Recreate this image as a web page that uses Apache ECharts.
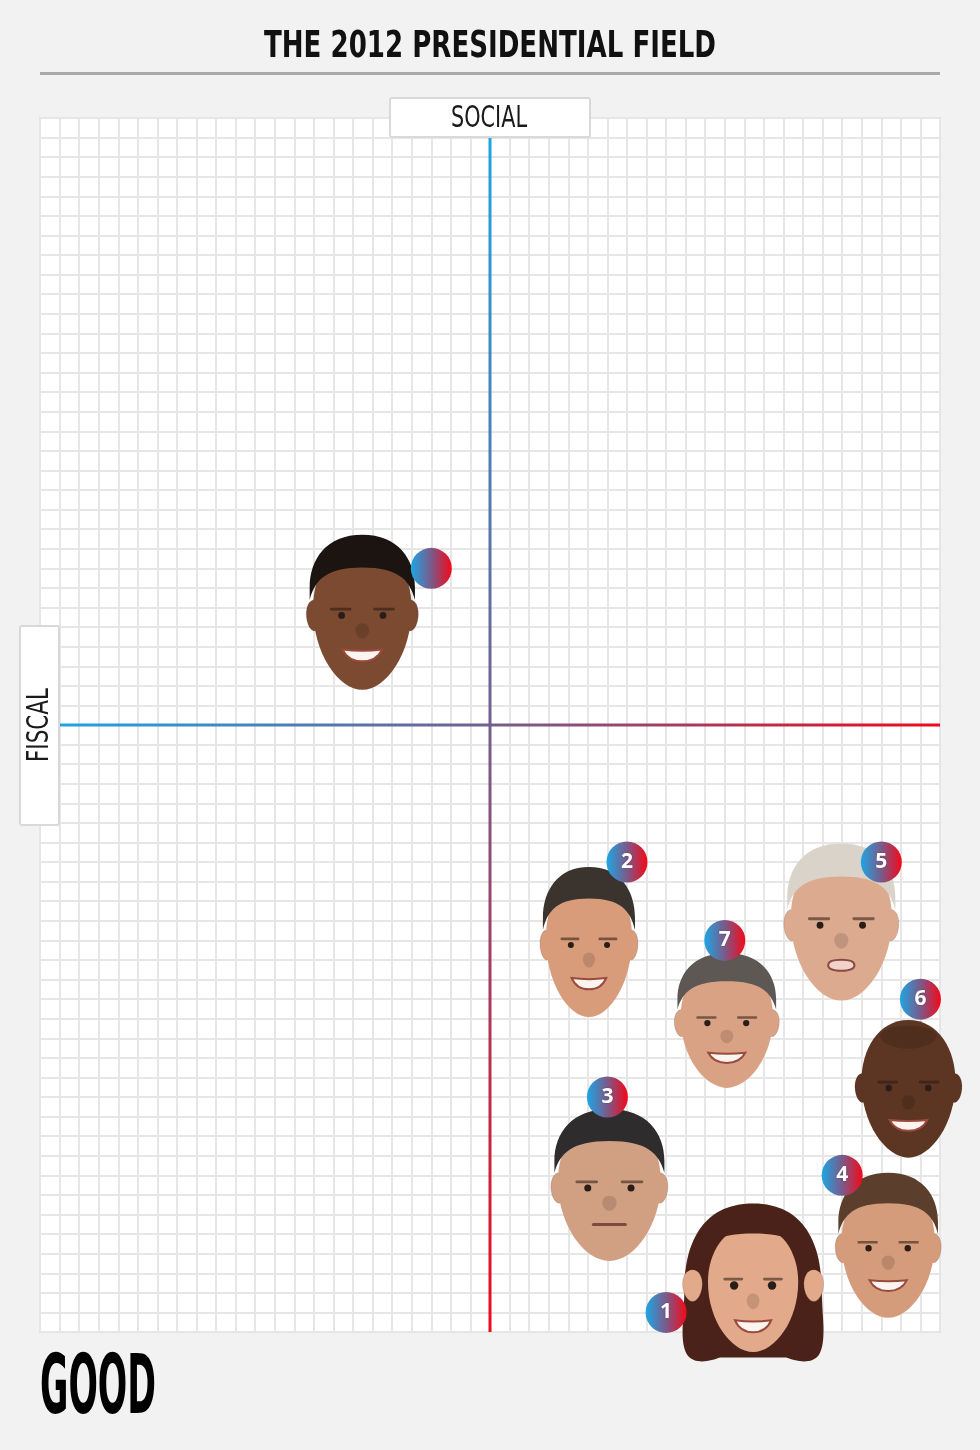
<!DOCTYPE html>
<html>
<head>
<meta charset="utf-8">
<script src="https://cdn.jsdelivr.net/npm/echarts@6/dist/echarts.min.js"></script>
<style>
html,body{margin:0;padding:0;background:#f2f2f2;}
#chart{width:980px;height:1450px;}
</style>
</head>
<body>
<div id="chart"></div>
<script>
// ---- data ----
const candidates = ['Michele Bachmann','Jon Huntsman','Mitt Romney','Rick Perry','Ron Paul','Herman Cain','Tim Pawlenty','Barack Obama'];
const badgeLabels = ['1','2','3','4','5','6','7',''];
const fiscalValues = [9, 7, 6, 18, 20, 22, 12, -3];      // horizontal axis (FISCAL)
const socialValues = [-30, -7, -19, -23, -7, -14, -11, 8]; // vertical axis (SOCIAL)
const fiscalRange = [-23, 23];
const socialRange = [-31, 31];
const titleText = 'THE 2012 PRESIDENTIAL FIELD';
const xAxisName = 'FISCAL';
const yAxisName = 'SOCIAL';
const logoText = 'GOOD';

// ---- styles (face glyphs drawn relative to each badge) ----
const faceStyles = [
  {dx: 87, dy:-30, w:141, h:158, skin:'#e2a98a', hair:'#4a2219', mouth:'smile', long:true},
  {dx:-38, dy: 80, w: 98, h:150, skin:'#d99c7b', hair:'#3b342e', mouth:'smile'},
  {dx:  2, dy: 88, w:117, h:152, skin:'#d1a082', hair:'#2f2c2e', mouth:'flat'},
  {dx: 46, dy: 70, w:106, h:145, skin:'#d59c7c', hair:'#5b3f2c', mouth:'smile'},
  {dx:-40, dy: 60, w:115, h:157, skin:'#dcab8f', hair:'#d9d3ca', mouth:'open'},
  {dx:-12, dy: 86, w:107, h:145, skin:'#5c3523', hair:'#2b1a12', mouth:'smile', bald:true},
  {dx:  2, dy: 80, w:105, h:135, skin:'#d9a284', hair:'#5d5853', mouth:'smile'},
  {dx:-69, dy: 44, w:112, h:155, skin:'#7b4a30', hair:'#1b1410', mouth:'smile'}
];

const FONT_COND = '"DejaVu Sans Condensed","Liberation Sans Narrow","DejaVu Sans",sans-serif';
const measureCtx = document.createElement('canvas').getContext('2d');
function fitScale(text, font, target){
  measureCtx.font = font;
  const w = measureCtx.measureText(text).width;
  return w > 0 ? target / w : 1;
}

const EGG = 'M50 0C82 0 100 28 100 58C100 98 74 130 50 130C26 130 0 98 0 58C0 28 18 0 50 0Z';
const CAP = 'M50 0C84 0 100 24 100 52L100 64C95 44 84 32 50 32C16 32 5 44 0 64L0 52C0 24 16 0 50 0Z';
const LONG = 'M50 0C88 0 100 30 100 62C100 80 104 98 98 108C92 116 80 112 74 110L26 110C20 112 8 116 2 108C-4 98 0 80 0 62C0 30 12 0 50 0Z';
const SMILE = 'M0 0Q50 12 100 0Q86 60 50 60Q14 60 0 0Z';
const OPEN = 'M0 30C0 8 25 0 50 0C75 0 100 8 100 30C100 52 75 60 50 60C25 60 0 52 0 30Z';

function pathEl(d, x, y, w, h, style){
  return {type:'path', shape:{pathData:d, x:x, y:y, width:w, height:h, layout:'cover'}, style:style};
}

function renderFace(params, api){
  const i = params.dataIndex;
  const s = faceStyles[i];
  const p = api.coord([api.value(0), api.value(1)]);
  const cx = p[0] + s.dx, cy = p[1] + s.dy, w = s.w, h = s.h;
  const x0 = cx - w/2, y0 = cy - h/2;
  const ch = [];
  if (s.long) {
    ch.push(pathEl(LONG, x0, y0, w, h, {fill:s.hair}));
  }
  // ears
  ch.push(pathEl(EGG, x0 + w*0.00, y0 + h*0.42, w*0.14, h*0.2, {fill:s.skin, stroke:'rgba(0,0,0,0.12)', lineWidth:1}));
  ch.push(pathEl(EGG, x0 + w*0.86, y0 + h*0.42, w*0.14, h*0.2, {fill:s.skin, stroke:'rgba(0,0,0,0.12)', lineWidth:1}));
  // face
  const fx = s.long ? x0 + w*0.18 : x0 + w*0.06;
  const fw = s.long ? w*0.64 : w*0.88;
  const fy = s.long ? y0 + h*0.14 : y0 + h*0.05;
  const fh = s.long ? h*0.80 : h*0.95;
  ch.push(pathEl(EGG, fx, fy, fw, fh, {fill:s.skin}));
  // hair cap
  if (s.bald) {
    // no cap: bald head, subtle shading only
    ch.push(pathEl(EGG, fx + fw*0.2, fy + h*0.04, fw*0.6, h*0.16, {fill:'rgba(0,0,0,0.12)'}));
  } else if (!s.long) {
    ch.push(pathEl(CAP, x0 + w*0.03, y0, w*0.94, h*0.42, {fill:s.hair}));
  } else {
    ch.push(pathEl(CAP, x0 + w*0.12, y0 + h*0.02, w*0.76, h*0.34, {fill:s.hair}));
  }
  // brows
  const ey = cy + h*0.02;
  ch.push({type:'rect', shape:{x:cx - fw*0.33, y:ey - h*0.05, width:fw*0.22, height:h*0.018, r:2}, style:{fill:'rgba(40,25,15,0.55)'}});
  ch.push({type:'rect', shape:{x:cx + fw*0.11, y:ey - h*0.05, width:fw*0.22, height:h*0.018, r:2}, style:{fill:'rgba(40,25,15,0.55)'}});
  // eyes
  ch.push({type:'circle', shape:{cx:cx - fw*0.21, cy:ey, r:Math.max(3, w*0.03)}, style:{fill:'#2a1d18'}});
  ch.push({type:'circle', shape:{cx:cx + fw*0.21, cy:ey, r:Math.max(3, w*0.03)}, style:{fill:'#2a1d18'}});
  // nose shadow
  ch.push(pathEl(EGG, cx - fw*0.07, cy + h*0.07, fw*0.14, h*0.1, {fill:'rgba(0,0,0,0.13)'}));
  // mouth
  const my = cy + h*0.24;
  if (s.mouth === 'smile') {
    ch.push(pathEl(SMILE, cx - fw*0.2, my, fw*0.4, h*0.075, {fill:'#fbf4ef', stroke:'#9a4a3e', lineWidth:2}));
  } else if (s.mouth === 'open') {
    ch.push(pathEl(OPEN, cx - fw*0.13, my, fw*0.26, h*0.07, {fill:'#f1d3cc', stroke:'#8d4a40', lineWidth:2}));
  } else {
    ch.push({type:'rect', shape:{x:cx - fw*0.17, y:my + h*0.01, width:fw*0.34, height:3, r:1.5}, style:{fill:'#7e4a40'}});
  }
  return {type:'group', children:ch};
}

const chart = echarts.init(document.getElementById('chart'), null, {renderer:'canvas'});

const pairs = fiscalValues.map((v, i) => [v, socialValues[i], candidates[i]]);

const titleFont = 'bold 38px ' + FONT_COND;
const logoFont = 'bold 82px ' + FONT_COND;
const labelFont = 'normal 30px ' + FONT_COND;

const badgeGradient = new echarts.graphic.LinearGradient(0, 0, 1, 0, [
  {offset:0, color:'#1da6e4'},
  {offset:0.5, color:'#7a5a8a'},
  {offset:1, color:'#f50818'}
]);

const option = {
  backgroundColor:'#f2f2f2',
  animation:false,
  grid:{left:40, right:40, top:118, bottom:118, show:true, backgroundColor:'#ffffff', borderColor:'#dddddd', borderWidth:2, containLabel:false},
  xAxis:{type:'value', min:fiscalRange[0], max:fiscalRange[1], interval:1,
    axisLine:{show:false}, axisTick:{show:false}, axisLabel:{show:false},
    splitLine:{show:true, lineStyle:{color:'#e6e6e6', width:2}}},
  yAxis:{type:'value', min:socialRange[0], max:socialRange[1], interval:1,
    axisLine:{show:false}, axisTick:{show:false}, axisLabel:{show:false},
    splitLine:{show:true, lineStyle:{color:'#e6e6e6', width:2}}},
  series:[
    {type:'line', silent:true, symbol:'none', z:2,
      data:[[0, socialRange[1]], [0, socialRange[0]]],
      lineStyle:{width:3, color:new echarts.graphic.LinearGradient(0, 118, 0, 1332, [
        {offset:0, color:'#1aa6e6'}, {offset:0.5, color:'#735f8e'}, {offset:1, color:'#ee0a1c'}], true)}},
    {type:'line', silent:true, symbol:'none', z:2,
      data:[[fiscalRange[0], 0], [fiscalRange[1], 0]],
      lineStyle:{width:3, color:new echarts.graphic.LinearGradient(40, 0, 940, 0, [
        {offset:0, color:'#1aa6e6'}, {offset:0.5, color:'#735f8e'}, {offset:1, color:'#ee0a1c'}], true)}},
    {type:'custom', name:'faces', silent:true, clip:false, z:3,
      data:pairs, encode:{x:0, y:1}, renderItem:renderFace},
    {type:'scatter', name:'rank', silent:true, z:5, clip:false,
      data:pairs, symbol:'circle', symbolSize:41,
      itemStyle:{color:badgeGradient, opacity:1},
      label:{show:true, position:'inside', color:'#ffffff', fontSize:21, fontWeight:'bold',
        fontFamily:'"Open Sans","DejaVu Sans",sans-serif',
        textShadowColor:'rgba(0,0,0,0.3)', textShadowBlur:2,
        formatter:(p) => badgeLabels[p.dataIndex]}}
  ],
  graphic:[
    {type:'text', x:490, y:47, z:100, scaleX:fitScale(titleText, titleFont, 452),
      style:{text:titleText, font:titleFont, fill:'#111111', textAlign:'center', textVerticalAlign:'middle'}},
    {type:'rect', z:100, shape:{x:40, y:72, width:900, height:3}, style:{fill:'#a9a9a9'}},
    {type:'rect', z:100, shape:{x:390, y:98, width:200, height:39, r:2}, style:{fill:'#ffffff', stroke:'#d9d9d9', lineWidth:2}},
    {type:'text', x:489, y:119, z:101, scaleX:fitScale(yAxisName, labelFont, 76),
      style:{text:yAxisName, font:labelFont, fill:'#1a1a1a', textAlign:'center', textVerticalAlign:'middle'}},
    {type:'rect', z:100, shape:{x:20, y:626, width:39, height:199, r:2}, style:{fill:'#ffffff', stroke:'#d9d9d9', lineWidth:2}},
    {type:'text', x:40, y:725, z:101, rotation:Math.PI/2, scaleX:fitScale(xAxisName, labelFont, 74),
      style:{text:xAxisName, font:labelFont, fill:'#1a1a1a', textAlign:'center', textVerticalAlign:'middle'}},
    {type:'text', x:98, y:1392, z:100, scaleX:fitScale(logoText, logoFont, 116),
      style:{text:logoText, font:logoFont, fill:'#000000', textAlign:'center', textVerticalAlign:'middle'}}
  ]
};
chart.setOption(option);
</script>
</body>
</html>
